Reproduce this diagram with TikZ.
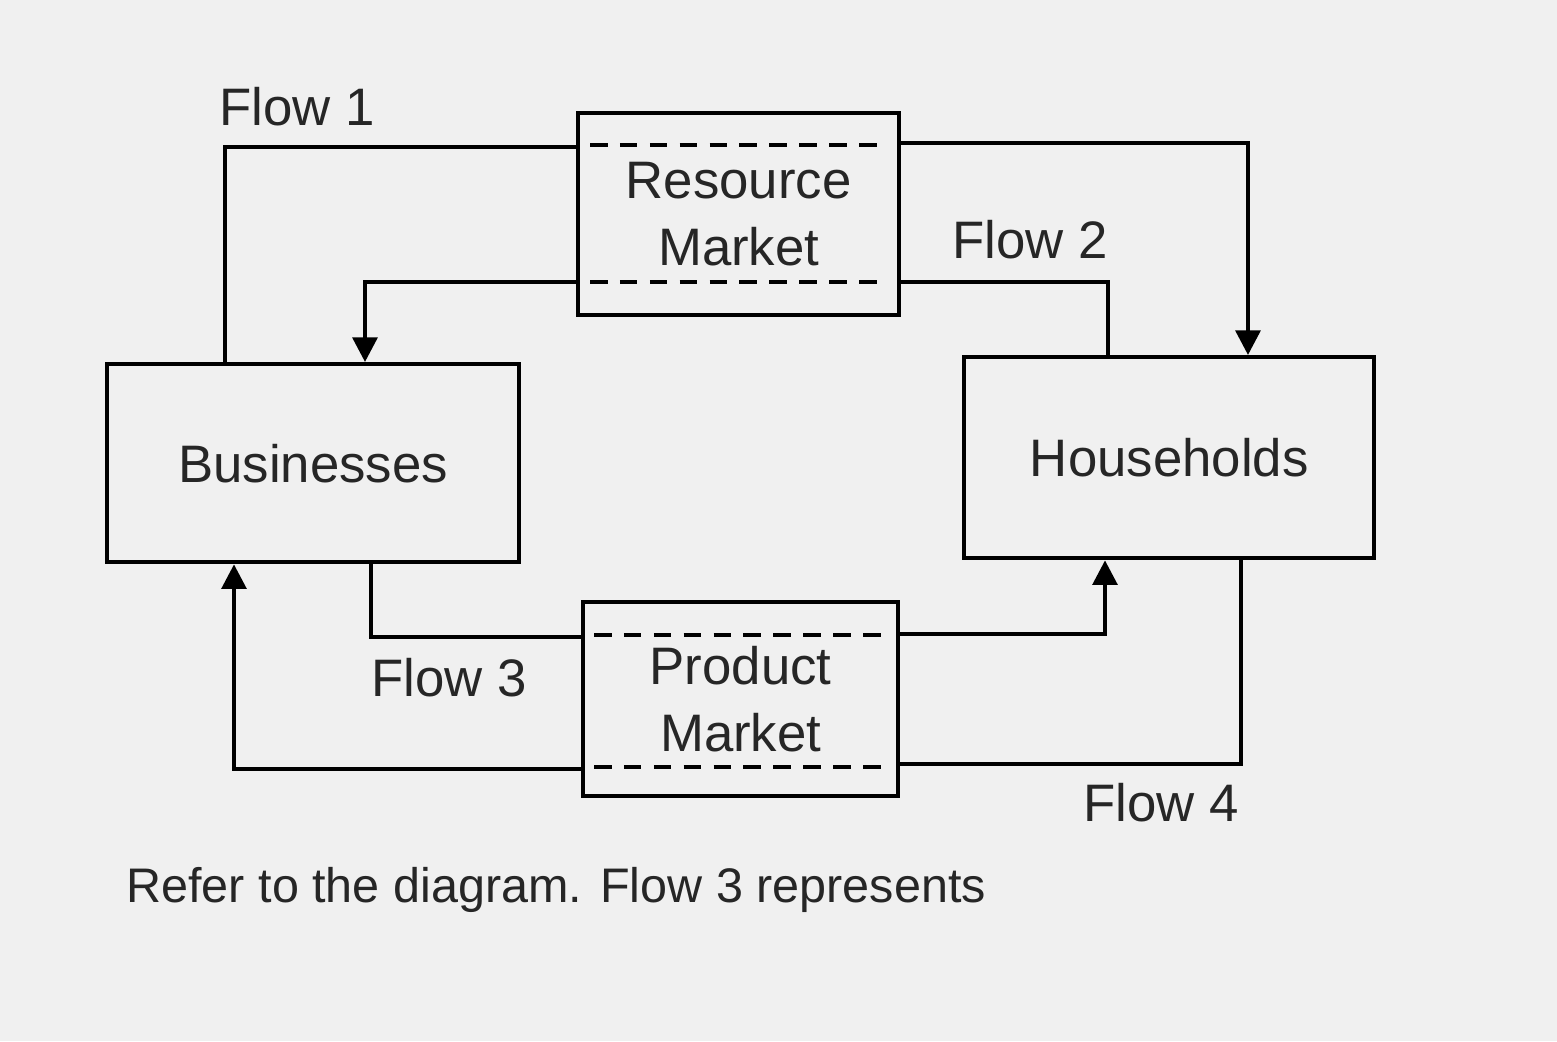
\documentclass[tikz,border=0pt]{standalone}
\usepackage{fontspec}
\setmainfont{Liberation Sans}
\usetikzlibrary{arrows.meta}
\begin{document}
\begin{tikzpicture}[x=0.01cm,y=-0.01cm,
  box/.style={draw,line width=1.2pt,inner sep=0pt,anchor=north west},
  flow/.style={draw,line width=1.2pt},
  arr/.style={flow,-{Triangle[length=7pt,width=7pt]}},
  dashline/.style={line width=1.2pt,dash pattern=on 5pt off 3.5pt},
  lbl/.style={font=\fontsize{15}{18}\selectfont,text=black!85}]
\fill[gray!12] (0,0) rectangle (1557,1041);
\useasboundingbox (0,0) rectangle (1557,1041);
\node[box,minimum width=3.21cm,minimum height=2.02cm] (rm) at (576,111) {};
\node[box,minimum width=4.12cm,minimum height=1.98cm] (bu) at (105,362) {};
\node[box,minimum width=4.10cm,minimum height=2.01cm] (ho) at (962,355) {};
\node[box,minimum width=3.15cm,minimum height=1.94cm] (pm) at (581,600) {};
\node[lbl,align=center] (rmt) at (rm.center) {Resource\\[1pt]Market};
\node[lbl] (but) at (bu.center) {Businesses};
\node[lbl] (hot) at (ho.center) {Households};
\node[lbl,align=center] (pmt) at (pm.center) {Product\\[1pt]Market};
\draw[dashline] (590,145) -- (886,145);
\draw[dashline] (590,282) -- (886,282);
\draw[dashline] (594,635) -- (884,635);
\draw[dashline] (594,767) -- (884,767);
% Flow 1
\coordinate (f1a) at (225,147); \coordinate (f1b) at (1248,143);
\draw[flow] (bu.north -| f1a) |- (f1a -| rm.west);
\draw[arr] (f1b -| rm.east) -| (ho.north -| f1b);
% Flow 2
\coordinate (f2a) at (1108,282); \coordinate (f2b) at (365,282);
\draw[flow] (ho.north -| f2a) |- (f2a -| rm.east);
\draw[arr] (f2b -| rm.west) -| (bu.north -| f2b);
% Flow 3
\coordinate (f3a) at (371,637); \coordinate (f3b) at (1105,634);
\draw[flow] (bu.south -| f3a) |- (f3a -| pm.west);
\draw[arr] (f3b -| pm.east) -| (ho.south -| f3b);
% Flow 4
\coordinate (f4a) at (1241,764); \coordinate (f4b) at (234,769);
\draw[flow] (ho.south -| f4a) |- (f4a -| pm.east);
\draw[arr] (f4b -| pm.west) -| (bu.south -| f4b);
\node[lbl] (l1) at (297,107) {Flow 1};
\node[lbl] (l2) at (1030,240) {Flow 2};
\node[lbl] (l3) at (449,678) {Flow 3};
\node[lbl] (l4) at (1161,803) {Flow 4};
\node[lbl,font=\fontsize{13.8}{17}\selectfont,anchor=west] (q) at (114,890) {Refer to the diagram. Flow 3 represents};
\end{tikzpicture}
\end{document}
